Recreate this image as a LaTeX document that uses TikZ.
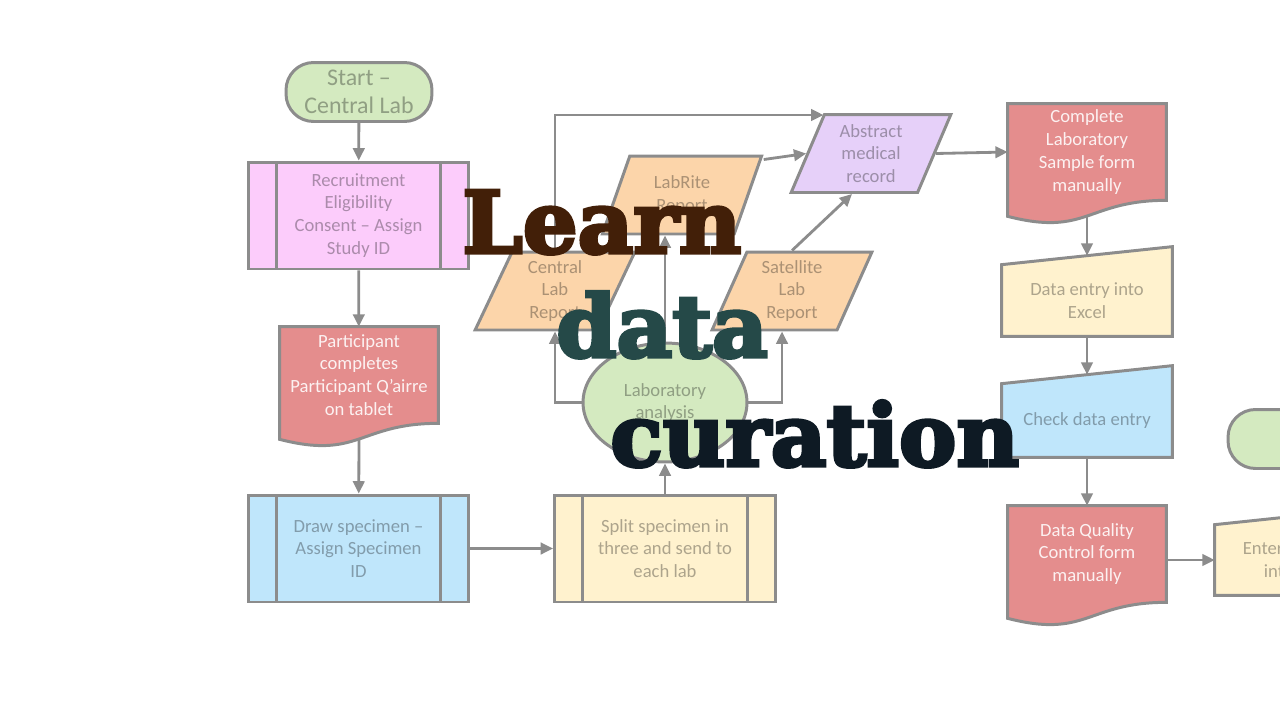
\documentclass[tikz,border=0pt]{standalone}
\usepackage{fontspec}
\setmainfont{Carlito}
\newfontfamily\slabfont{DejaVu Serif}[BoldFeatures={FakeBold=4}]
\usetikzlibrary{positioning,shapes.geometric,backgrounds,arrows.meta}

\definecolor{linegray}{RGB}{140,140,140}
\definecolor{termgreen}{RGB}{212,234,192}
\definecolor{procpink}{RGB}{252,204,251}
\definecolor{docred}{RGB}{228,141,141}
\definecolor{procblue}{RGB}{191,230,251}
\definecolor{procyellow}{RGB}{255,242,206}
\definecolor{repopeach}{RGB}{252,213,170}
\definecolor{abspurple}{RGB}{230,208,249}
\definecolor{learnbrown}{RGB}{66,31,8}
\definecolor{datateal}{RGB}{37,73,72}
\definecolor{curenavy}{RGB}{14,26,36}

\newcommand{\boxfont}{\fontsize{10.6}{13}\selectfont}
% wavy bottom of a document box
\newcommand{\docshape}[1]{%
  \path[docfill] (#1.north west) -- (#1.north east) -- (#1.south east)
    .. controls (#1.south) and ([yshift=-0.73cm]#1.south) .. ([yshift=-0.32cm]#1.south west) -- cycle;}
% slanted top of a manual input box
\newcommand{\manshape}[2]{%
  \path[manfill=#2] (#1.south west) -- (#1.north west) -- ([yshift=0.36cm]#1.north east) -- (#1.south east) -- cycle;}

\tikzset{
  base/.style={draw=linegray, line width=1.7pt, align=center, inner sep=1pt, font=\boxfont},
  terminal/.style={base, rectangle, rounded corners=0.55cm, fill=termgreen, text=termgreen!68!black,
    minimum width=2.92cm, minimum height=1.18cm, font=\fontsize{13.6}{15.9}\selectfont},
  subproc/.style={base, rectangle, fill=#1, text=#1!68!black, minimum width=4.42cm, minimum height=2.14cm,
    path picture={\draw[linegray, line width=1.7pt]
      ([xshift=0.56cm]path picture bounding box.north west) -- ([xshift=0.56cm]path picture bounding box.south west)
      ([xshift=-0.56cm]path picture bounding box.north east) -- ([xshift=-0.56cm]path picture bounding box.south east);}},
  report/.style={base, trapezium, trapezium left angle=68, trapezium right angle=112, trapezium stretches,
    fill=#1, text=#1!68!black, inner ysep=0pt, minimum width=3.2cm, minimum height=1.56cm},
  labnode/.style={base, ellipse, fill=termgreen, text=termgreen!68!black, inner sep=0pt,
    minimum width=3.28cm, minimum height=2.38cm},
  docbox/.style={rectangle, align=center, inner sep=1pt, font=\boxfont, text=docred!12!white,
    minimum width=3.16cm, minimum height=1.92cm},
  docfill/.style={fill=docred, draw=linegray, line width=1.7pt},
  manbox/.style={rectangle, align=center, inner sep=1pt, font=\boxfont, text=#1!68!black, minimum width=3.4cm},
  manfill/.style={fill=#1, draw=linegray, line width=1.7pt},
  flow/.style={draw=linegray, line width=1.6pt, -{Triangle[length=7pt,width=6.5pt]}},
  slab/.style={anchor=base west, inner sep=0pt, font=\slabfont\bfseries\fontsize{49}{50}\selectfont}
}

\begin{document}
\begin{tikzpicture}[x=0.02cm,y=-0.02cm]
  \useasboundingbox (0,0) rectangle (1280,720);

  % left column
  \node [terminal] (start) at (359,92) {Start --\\Central Lab};
  \node [subproc=procpink] (recruit) at (358.5,215.5) {Recruitment\\Eligibility\\Consent -- Assign\\Study ID};
  \node [docbox] (particip) at (359,375) {Participant\\completes\\Participant Q’airre\\on tablet};
  \node [subproc=procblue] (drawspec) at (358.5,548.5) {Draw specimen --\\Assign Specimen\\ID};

  % middle
  \node [subproc=procyellow] (split) at (665,548.5) {Split specimen in\\three and send to\\each lab};
  \node [labnode] (lab) at (665,402.5) {Laboratory\\analysis};
  \node [report=repopeach] (central) at (555,291) {Central\\Lab\\Report};
  \node [report=repopeach] (satellite) at (792,291) {Satellite\\Lab\\Report};
  \node [report=repopeach] (labrite) at (682,195) {LabRite\\Report};
  \node [report=abspurple] (abstract) at (871,153.5) {Abstract\\medical\\record};

  % right column
  \node [docbox] (complete) at (1087,152) {Complete\\Laboratory\\Sample form\\manually};
  \node [manbox=procyellow, minimum height=1.42cm] (entry) at (1087,300.5) {Data entry into\\Excel};
  \node [manbox=procblue, minimum height=1.46cm] (check) at (1087,420.5) {Check data entry};
  \node [docbox] (quality) at (1087,554) {Data Quality\\Control form\\manually};
  \node [manbox=procyellow, minimum height=1.4cm] (enter) at (1300,560) {Enter decisions\\into Excel};
  \node [terminal] (finish) at (1301,439) {};

  \begin{scope}[on background layer]
    \docshape{particip}
    \docshape{complete}
    \docshape{quality}
    \manshape{entry}{procyellow}
    \manshape{check}{procblue}
    \manshape{enter}{procyellow}
  \end{scope}

  \coordinate (particip-b) at ([yshift=-0.32cm]particip.south);
  \coordinate (complete-b) at ([yshift=-0.32cm]complete.south);
  \coordinate (entry-t) at ([yshift=0.18cm]entry.north);
  \coordinate (check-t) at ([yshift=0.18cm]check.north);

  \draw [flow] (start) -- (recruit);
  \draw [flow] (recruit) -- (particip);
  \draw [flow] (particip-b) -- (drawspec);
  \draw [flow] (drawspec) -- (split);
  \draw [flow] (split) -- (lab);
  \draw [flow] (lab.north) -- (lab.north |- labrite.south);
  \draw [flow] (lab.west) -| (central.south);
  \draw [flow] (lab.east) -| ([xshift=-0.2cm]satellite.south);
  \draw [flow] (central.north) |- ([yshift=-0.04cm]abstract.top left corner);
  \draw [flow] ([yshift=-0.1cm]labrite.top right corner) -- (abstract.west);
  \draw [flow] (satellite.north) -- ([xshift=-0.38cm]abstract.south);
  \draw [flow] (abstract.east) -- (complete.west);
  \draw [flow] (complete-b) -- (entry-t);
  \draw [flow] (entry) -- (check-t);
  \draw [flow] (check) -- (quality);
  \draw [flow] (enter.west -| quality.east) -- (enter.west);

  % title over the chart
  \node [slab, text=learnbrown] (learn) at (462,253) {Learn};
  \node [slab, text=datateal] (data) at (556,357) {data};
  \node [slab, text=curenavy] (curation) at (610,466) {curation};
\end{tikzpicture}
\end{document}
